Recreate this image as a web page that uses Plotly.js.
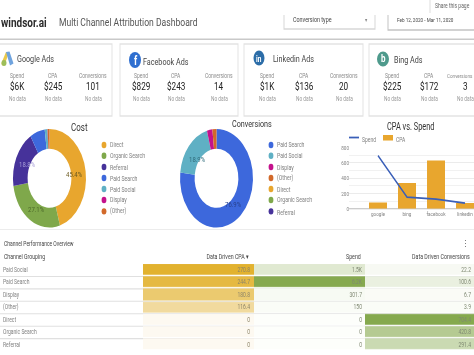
<!DOCTYPE html>
<html><head><meta charset="utf-8">
<script src="https://cdn.plot.ly/plotly-3.0.1.min.js"></script>
<style>
html,body{margin:0;padding:0;background:#fff;overflow:hidden;width:474px;height:355px}
#chart{width:474px;height:263px;transform:scale(1,1.35);transform-origin:0 0;filter:blur(0.35px)}
</style></head><body><div id="chart"></div>
<script>
// ---- data ----
const costLabels = ['Direct','Organic Search','Referral','Paid Search','Paid Social','Display','(Other)'];
const costValues = [45.4,27.1,18.8,6.6,1.2,0.1,0.8];
const costText = ['45.4%','27.1%','18.8%'];
const convLabels = ['Paid Search','Paid Social','Display','(Other)','Direct','Organic Search','Referral'];
const convValues = [76.9,18.9,2.4,1.8,0,0,0];
const convText = ['76.9%','18.9%'];
const comboCats = ['google','bing','facebook','linkedin'];
const comboCPA = [83,337,634,74];
const comboSpend = [695,153,127,74];
const rows = ['Paid Social','Paid Search','Display','(Other)','Direct','Organic Search','Referral'];
const tableCPA = [270.8,244.7,180.8,116.4,0,0,0];
const tableSpend = [1500,6200,301.7,150,0,0,0];
const tableSpendText = ['1.5K','6.2K','301.7','150','0','0','0'];
const tableConv = [22.2,100.6,6.7,3.9,704.4,420.8,291.4];
const cards = [
 {name:'Google Ads',spend:'$6K',cpa:'$245',conv:'101'},
 {name:'Facebook Ads',spend:'$829',cpa:'$243',conv:'14'},
 {name:'Linkedin Ads',spend:'$1K',cpa:'$136',conv:'20'},
 {name:'Bing Ads',spend:'$225',cpa:'$172',conv:'3'}
];
// ---- styling / layout ----
const FONT='Roboto, sans-serif';
const colorOf={'Direct':'#E8A62E','Organic Search':'#7FA84B','Referral':'#46329A','Paid Search':'#3D68DC','Paid Social':'#5FB0C4','Display':'#C4128C','(Other)':'#D2692A'};
const W=474,H=355;
const fx=x=>x/W, fy=y=>1-y/H;
const anns=[],shapes=[];
function T(x,y,text,size,color,anchor,extra){anns.push(Object.assign({xref:'paper',yref:'paper',x:fx(x),y:fy(y),text,showarrow:false,xanchor:anchor||'left',yanchor:'middle',font:{family:FONT,size,color},borderpad:0,align:anchor||'left'},extra||{}));}
function R(x0,y0,x1,y1,line,fill,lw){shapes.push({type:'rect',xref:'paper',yref:'paper',x0:fx(x0),x1:fx(x1),y0:fy(y0),y1:fy(y1),line:{color:line||'rgba(0,0,0,0)',width:lw===undefined?1:lw},fillcolor:fill||'rgba(0,0,0,0)',layer:'below'});}
function C(cx,cy,rx,ry,fill){shapes.push({type:'circle',xref:'paper',yref:'paper',x0:fx(cx-rx),x1:fx(cx+rx),y0:fy(cy-ry),y1:fy(cy+ry),line:{width:0},fillcolor:fill,layer:'above'});}
function P(pts,fill){shapes.push({type:'path',xref:'paper',yref:'paper',path:'M'+pts.map(p=>fx(p[0])+' '+fy(p[1])).join(' L')+' Z',line:{width:0},fillcolor:fill,layer:'above'});}
function U(pts,color,w){shapes.push({type:'path',xref:'paper',yref:'paper',path:'M'+pts.map(p=>fx(p[0])+' '+fy(p[1])).join(' L'),line:{width:w,color},layer:'below'});}

// header
T(0,22,'windsor.ai',10,'#2b2b2b','left',{font:{family:FONT,size:10,color:'#2b2b2b',weight:700}});
T(58,22,'Multi Channel Attribution Dashboard',8.6,'#555');
U([[284,15],[284,29],[375,29],[375,15]],'#d8d8d8',1);
T(292,19,'Conversion type',5.4,'#444');
T(366,19,'▾',4.5,'#888','center');
U([[388,15],[388,30],[476,30]],'#c4c4c4',1);
T(396,19,'Feb 12, 2020 - Mar 11, 2020',4.6,'#444');
U([[430,-2],[430,13]],'#dddddd',1);
T(434,6,'Share this page',5,'#666');
R(-2,38.5,476,40,'#c9c9c9','#c9c9c9',0);

// cards
const cardBox=[[-2,112],[120,238],[244,363],[369,480]];
const colX=[[17,53,93],[141,176,219],[267,304,344],[392,429,465]];
const nameX=[16,142,272,393], nameY=[59,61,59,60];
cards.forEach((c,i)=>{
  R(cardBox[i][0],44,cardBox[i][1],116,'#e3e3e3','#fff',1);
  T(nameX[i],nameY[i],c.name,7.2,'#444');
  [['Spend',c.spend],['CPA',c.cpa],['Conversions',c.conv]].forEach((m,j)=>{
    const isEdge=(i===3&&j===2&&m[0]==='Conversions');
    T(isEdge?colX[i][j]-5:colX[i][j],76,m[0],isEdge?4.6:5,'#8a8a8a','center');
    T(colX[i][j],87,m[1],8.2,'#222','center');
    T(colX[i][j],99,'No data',4.8,'#999','center');
  });
});
// logos
P([[6,52],[9,52],[5,64],[2,65.5],[1.5,63]],'#E9C84A');
P([[6,52],[9.5,51.5],[13.5,63.5],[10,65.5]],'#6FA3DE');
C(4,63,2.5,3,'#9DBE5A');
C(135,60,6,8,'#2F6FD0');
T(136,61,'f',9,'#fff','center',{font:{family:FONT,size:9,color:'#fff',weight:700}});
C(259,58,5.5,7.5,'#2C6DA8');
T(259,59,'in',6.5,'#fff','center',{font:{family:FONT,size:6.5,color:'#fff',weight:700}});
C(383,59,6,7.5,'#4E9A8C');
T(383,59,'b',8,'#fff','center',{font:{family:FONT,size:8,color:'#fff',weight:700}});

// chart titles + legends
T(79,127,'Cost',8,'#333','center');
T(252,124,'Conversions',7.2,'#333','center');
T(411,126,'CPA vs. Spend',7.4,'#333','center');
const legY=[145,155.7,167,178,189,200,211.3];
costLabels.forEach((l,i)=>{C(104,legY[i],2.4,3.2,colorOf[l]);T(108.7,legY[i],l,5.2,'#808080');});
convLabels.forEach((l,i)=>{C(271,legY[i],2.4,3.2,colorOf[l]);T(275.5,legY[i],l,5.2,'#808080');});
shapes.push({type:'line',xref:'paper',yref:'paper',x0:fx(349),x1:fx(359),y0:fy(137.5),y1:fy(137.5),line:{color:'#3A5FB8',width:1.3}});
R(383,135,393,140.5,null,'#E8A62E',0);
T(361,138.5,'Spend',5,'#808080');
T(395,138.5,'CPA',5,'#808080');
R(-2,229,476,230,'#ececec','#ececec',0);

// percent labels on the donuts
T(74,173,costText[0],6,'#6b5a20','center');
T(36,208,costText[1],6,'#4d6a2a','center');
T(27,164,costText[2],6,'#a9a0d8','center');
T(233,203,convText[0],6,'#27408c','center');
T(197,158,convText[1],6,'#2f6b7a','center');

// table heading
T(3,243,'Channel Performance Overview',5,'#444');
T(465,244,'⋮',7,'#444','center');
T(3,257,'Channel Grouping',5.2,'#444');
T(250,257,'Data Driven CPA ▾',5.3,'#444','right');
T(362,257,'Spend',5.3,'#444','right');
T(471,257,'Data Driven Conversions',5.3,'#444','right');

const colEdges=[143,254,365,474];
const ys=rows.map((_,i)=>i+0.5);
function heat(z,c0,c1,col){return {type:'heatmap',xaxis:'x',yaxis:'y',z:z.map(v=>[v]),x0:(colEdges[col]+colEdges[col+1])/2,dx:colEdges[col+1]-colEdges[col],y0:0.5,dy:1,zmin:0,zmax:Math.max(...z),colorscale:[[0,c0],[1,c1]],showscale:false,ygap:1,hoverinfo:'skip'};}
function txt(x,labels,pos,color){return {type:'scatter',mode:'text',xaxis:'x',yaxis:'y',x:labels.map(()=>x),y:ys,text:labels,textposition:pos,textfont:{family:FONT,size:5,color},cliponaxis:false,showlegend:false,hoverinfo:'skip'};}
const donut=(labels,values,x0,x1)=>({type:'pie',labels,values,textinfo:'none',sort:false,direction:'clockwise',rotation:0,hole:0.6,domain:{x:[fx(x0),fx(x1)],y:[fy(228),fy(128.5)]},marker:{colors:labels.map(l=>colorOf[l]),line:{width:0}},showlegend:false,hoverinfo:'label+percent'});

const data=[
 donut(costLabels,costValues,13,86),
 donut(convLabels,convValues,180,253),
 {type:'bar',name:'CPA',x:comboCats,y:comboCPA,xaxis:'x2',yaxis:'y2',marker:{color:'#E8A62E'},width:0.62,showlegend:false},
 {type:'scatter',mode:'lines',name:'Spend',x:comboCats,y:comboSpend,xaxis:'x2',yaxis:'y2',line:{color:'#3A5FB8',width:1.3},showlegend:false},
 heat(tableCPA,'#FDF9F1','#E2B22F',0),
 heat(tableSpend,'#FDFEFB','#86A94F',1),
 heat(tableConv,'#FBFCF8','#85A94E',2),
 txt(3,rows,'middle right','#808080'),
 txt(250,tableCPA.map(String),'middle left','#8c8468'),
 txt(362,tableSpendText,'middle left','#7f8872'),
 txt(471,tableConv.map(String),'middle left','#7f8872')
];
const layout={
 width:W,height:H/1.35,margin:{l:0,r:0,t:0,b:0},paper_bgcolor:'#fff',plot_bgcolor:'rgba(0,0,0,0)',showlegend:false,
 font:{family:FONT},annotations:anns,shapes:shapes,
 xaxis:{domain:[0,1],range:[0,W],visible:false,fixedrange:true},
 yaxis:{domain:[fy(351),fy(264)],range:[7,0],dtick:1,tick0:0,showgrid:true,gridcolor:'#e0e0e0',gridwidth:0.8,zeroline:false,showticklabels:false,ticks:'',showline:false,fixedrange:true},
 xaxis2:{domain:[fx(349),1],anchor:'y2',type:'category',categoryorder:'array',categoryarray:comboCats,range:[-1,3.31],showgrid:false,showline:false,ticks:'',tickfont:{family:FONT,size:4.6,color:'#808080'},fixedrange:true},
 yaxis2:{domain:[fy(208.7),fy(147.7)],anchor:'free',position:fx(349),range:[0,800],dtick:200,tickfont:{family:FONT,size:4.6,color:'#808080'},gridcolor:'#e6e6e6',gridwidth:0.7,zeroline:true,zerolinecolor:'#bbb',zerolinewidth:0.8,showline:false,ticks:'',minor:{dtick:100,showgrid:true,gridcolor:'#eeeeee',gridwidth:0.7},fixedrange:true},
 bargap:0.38
};
Plotly.newPlot('chart',data,layout,{displayModeBar:false,staticPlot:true});
</script></body></html>
